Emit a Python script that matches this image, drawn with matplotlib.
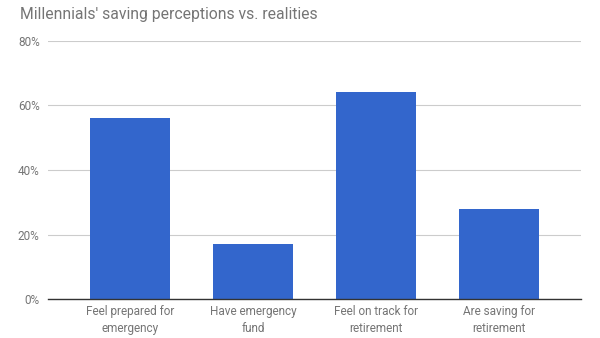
import matplotlib
matplotlib.use('Agg')
import matplotlib.pyplot as plt

categories = ['Feel prepared for\nemergency', 'Have emergency\nfund',
              'Feel on track for\nretirement', 'Are saving for\nretirement']
values = [56, 17, 64, 28]
y_ticks = [0, 20, 40, 60, 80]
y_tick_labels = ['0%', '20%', '40%', '60%', '80%']

plt.rcParams['font.family'] = ['Roboto', 'DejaVu Sans']

fig = plt.figure(figsize=(6, 3.38), dpi=100)
ax = fig.add_axes([48 / 600, 1 - 299.3 / 338, 533 / 600, (299.3 - 40.5) / 338])

positions = list(range(len(categories)))
ax.bar(positions, values, width=0.65, color='#3366cc', zorder=3)

ax.set_xlim(-0.667, len(categories) - 1 + 0.667)
ax.set_ylim(0, 80)
ax.set_yticks(y_ticks)
ax.set_yticklabels(y_tick_labels)
ax.set_xticks(positions)
ax.set_xticklabels(categories, linespacing=1.45)

ax.grid(axis='y', color='#cccccc', linewidth=0.8, zorder=0)
for side in ['top', 'right', 'left']:
    ax.spines[side].set_visible(False)
ax.spines['bottom'].set_color('#333333')
ax.spines['bottom'].set_linewidth(1.0)
ax.spines['bottom'].set_zorder(4)

ax.tick_params(axis='both', length=0, labelsize=8.5, labelcolor='#757575')
ax.tick_params(axis='y', pad=6)
ax.tick_params(axis='x', pad=4)

fig.text(20 / 600, 1 - 14 / 338, "Millennials' saving perceptions vs. realities",
         fontsize=11.3, color='#757575', va='center', ha='left')

fig.savefig('out.png', dpi=100)
